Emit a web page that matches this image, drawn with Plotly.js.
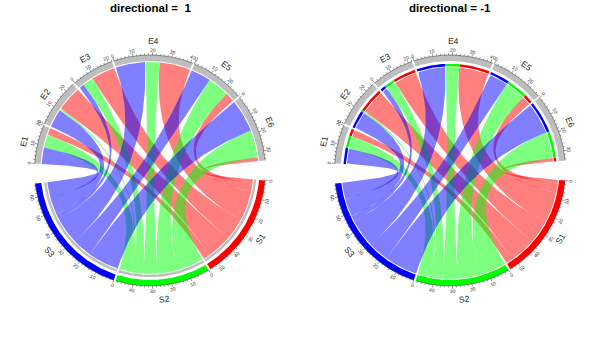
<!DOCTYPE html>
<html><head><meta charset="utf-8">
<script src="https://cdn.plot.ly/plotly-3.0.1.min.js"></script>
<style>html,body{margin:0;padding:0;background:#fff}#chart{width:600px;height:341px}</style>
</head><body><div id="chart"></div>
<script>
// ---- data ----
const rowNames = ['S1', 'S2', 'S3'];
const colNames = ['E1', 'E2', 'E3', 'E4', 'E5', 'E6'];
const valS1 = [4, 14, 13, 17, 5, 2];
const valS2 = [7, 1, 6, 8, 12, 15];
const valS3 = [9, 10, 3, 16, 11, 18];
const rowColors = ['#FF0000', '#00FF00', '#0000FF'];
const linkColors = ['rgba(255,0,0,0.5)', 'rgba(0,255,0,0.5)', 'rgba(0,0,255,0.5)'];
const colColor = '#BEBEBE';
const panelTitles = ['directional =\u00a0\u00a01', 'directional = -1'];
const directions = [1, -1];

// ---- geometry ----
const mat = [valS1, valS2, valS3];
const GAP = 1, BIG_GAP = 10;
const R_OUT = 115.5, R_IN = 109.5, R_TGT = 108.5, R_SRC = 103.3, BAR_IN = 104.2, BAR_OUT = 106.7;
const R_LAB = 121, R_NAME = 129.5;
const FONT = 'Liberation Sans, Arial, sans-serif';

const rowSum = mat.map(r => r.reduce((a, b) => a + b, 0));
const colSum = colNames.map((_, j) => mat.reduce((a, r) => a + r[j], 0));
const total = rowSum.reduce((a, b) => a + b, 0) * 2;
const unit = (360 - 7 * GAP - 2 * BIG_GAP) / total;

const sectors = [];
{
  let a = -BIG_GAP / 2;
  const all = rowNames.map((n, i) => ({name: n, size: rowSum[i], color: rowColors[i], isRow: true, idx: i}))
    .concat(colNames.map((n, j) => ({name: n, size: colSum[j], color: colColor, isRow: false, idx: j})));
  all.forEach((s, k) => {
    s.start = a; s.end = a - s.size * unit;
    sectors.push(s);
    a = s.end - ((k === 2 || k === 8) ? BIG_GAP : GAP);
  });
}
const rowSec = sectors.slice(0, 3), colSec = sectors.slice(3);

// link end angles
const links = [];
const rowPos = {}, colPos = {};
rowSec.forEach((s, i) => {
  let cum = 0;
  for (let j = colNames.length - 1; j >= 0; j--) {
    const v = mat[i][j];
    rowPos[i + '_' + j] = [s.start - cum * unit, s.start - (cum + v) * unit];
    cum += v;
  }
});
colSec.forEach((s, j) => {
  let cum = 0;
  for (let i = rowNames.length - 1; i >= 0; i--) {
    const v = mat[i][j];
    colPos[i + '_' + j] = [s.start - cum * unit, s.start - (cum + v) * unit];
    cum += v;
  }
});
for (let j = 0; j < colNames.length; j++) for (let i = 0; i < rowNames.length; i++) links.push({i, j});

function xy(theta, r) { const t = theta * Math.PI / 180; return [r * Math.cos(t), r * Math.sin(t)]; }
function arc(a1, a2, r) {
  const n = Math.max(2, Math.ceil(Math.abs(a2 - a1) / 0.4) + 1), out = [];
  for (let k = 0; k < n; k++) out.push(xy(a1 + (a2 - a1) * k / (n - 1), r));
  return out;
}
function bez(p0, p2) {
  const out = [], n = 50;
  for (let k = 0; k <= n; k++) {
    const t = k / n;
    out.push([(1 - t) * (1 - t) * p0[0] + t * t * p2[0], (1 - t) * (1 - t) * p0[1] + t * t * p2[1]]);
  }
  return out;
}
function band(a1, a2, r1, r2) { return arc(a1, a2, r2).concat(arc(a2, a1, r1)); }

const traces = [];
const annotations = [];
function poly(pts, color, ax) {
  traces.push({type: 'scatter', mode: 'lines', x: pts.map(p => p[0]), y: pts.map(p => p[1]),
    fill: 'toself', fillcolor: color, line: {width: 0, color: color}, hoverinfo: 'skip',
    xaxis: ax[0], yaxis: ax[1]});
}
function textAngle(theta) {
  let t = ((theta % 360) + 360) % 360;
  let ang = (t <= 180) ? 90 - t : -(t + 90);
  while (ang > 180) ang -= 360; while (ang < -180) ang += 360;
  return ang;
}

directions.forEach((dir, p) => {
  const ax = p === 0 ? ['x', 'y'] : ['x2', 'y2'];
  // links
  links.forEach(({i, j}) => {
    const [rs, re] = rowPos[i + '_' + j], [cs, ce] = colPos[i + '_' + j];
    const rr = dir === 1 ? R_SRC : R_TGT;
    const rc = dir === 1 ? R_TGT : R_SRC;
    const pts = arc(rs, re, rr)
      .concat(bez(xy(re, rr), xy(cs, rc)))
      .concat(arc(cs, ce, rc))
      .concat(bez(xy(ce, rc), xy(rs, rr)));
    poly(pts, linkColors[i], ax);
    // target-proportion bars on source side
    if (dir === 1) poly(band(rs, re, BAR_IN, BAR_OUT), colColor, ax);
    else poly(band(cs, ce, BAR_IN, BAR_OUT), rowColors[i], ax);
  });
  // grid tracks
  sectors.forEach(s => poly(band(s.start, s.end, R_IN, R_OUT), s.color, ax));
  // axes: baseline + ticks
  const tx = [], ty = [];
  sectors.forEach(s => {
    arc(s.start, s.end, R_OUT).forEach(pt => { tx.push(pt[0]); ty.push(pt[1]); });
    tx.push(null); ty.push(null);
    for (let v = 0; v <= s.size + 1e-9; v += 2) {
      const th = s.start - v * unit, major = (v % 10 === 0);
      const a = xy(th, R_OUT), b = xy(th, R_OUT + (major ? 2.8 : 1.5));
      tx.push(a[0], b[0], null); ty.push(a[1], b[1], null);
      if (major) {
        const c = xy(th, R_LAB);
        annotations.push({x: c[0], y: c[1], xref: ax[0], yref: ax[1], text: String(v), showarrow: false,
          textangle: textAngle(th), xanchor: 'center', yanchor: 'middle',
          font: {family: FONT, size: 5, color: '#333'}});
      }
    }
  });
  traces.push({type: 'scatter', mode: 'lines', x: tx, y: ty, line: {color: '#333', width: 0.5},
    hoverinfo: 'skip', xaxis: ax[0], yaxis: ax[1]});
  // sector names
  sectors.forEach(s => {
    const th = (s.start + s.end) / 2, c = xy(th, R_NAME);
    annotations.push({x: c[0], y: c[1], xref: ax[0], yref: ax[1], text: s.name, showarrow: false,
      textangle: textAngle(th), xanchor: 'center', yanchor: 'middle',
      font: {family: FONT, size: 8.5, color: '#222'}});
  });
  // title
  annotations.push({x: 0, y: 163, xref: ax[0], yref: ax[1], text: '<b>' + panelTitles[p] + '</b>',
    showarrow: false, xanchor: 'center', yanchor: 'middle', font: {family: FONT, size: 11.5, color: '#000'}});
});

const axOpts = {visible: false, fixedrange: true, showgrid: false, zeroline: false};
const layout = {
  width: 600, height: 341, margin: {l: 0, r: 0, t: 0, b: 0},
  paper_bgcolor: '#fff', plot_bgcolor: '#fff', showlegend: false,
  xaxis: Object.assign({domain: [0, 0.5], range: [-150, 150]}, axOpts),
  yaxis: Object.assign({domain: [0, 1], range: [-170.5, 170.5]}, axOpts),
  xaxis2: Object.assign({domain: [0.5, 1], range: [-150, 150], anchor: 'y2'}, axOpts),
  yaxis2: Object.assign({domain: [0, 1], range: [-170.5, 170.5], anchor: 'x2'}, axOpts),
  annotations: annotations
};
Plotly.newPlot('chart', traces, layout, {staticPlot: true, displayModeBar: false});
</script>
</body></html>
